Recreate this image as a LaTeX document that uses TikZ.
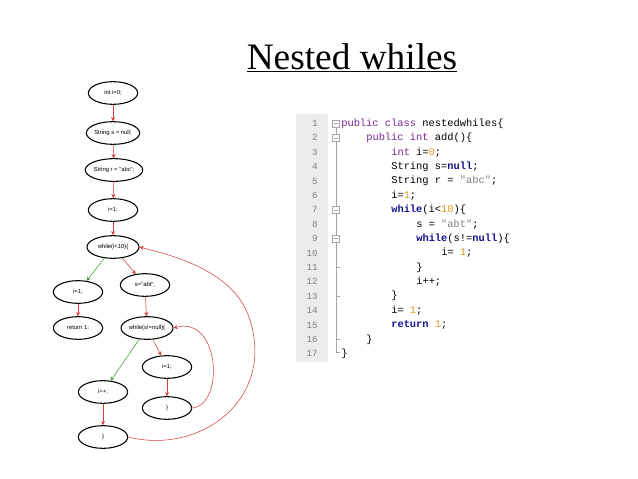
\documentclass[tikz,border=0pt]{standalone}
\usepackage{fontspec}
\setmainfont{Liberation Serif}
\setsansfont{Liberation Sans}
\setmonofont{Liberation Mono}
\usetikzlibrary{shapes.geometric,arrows.meta}
\definecolor{kw}{RGB}{120,40,150}
\definecolor{kb}{RGB}{20,20,140}
\definecolor{num}{RGB}{220,160,40}
\definecolor{str}{RGB}{130,130,130}
\definecolor{redline}{RGB}{215,60,60}
\definecolor{greenline}{RGB}{70,150,60}
\newcommand{\Kw}[1]{\textcolor{kw}{#1}}
\newcommand{\Bw}[1]{\textcolor{kb}{\bfseries #1}}
\newcommand{\Nm}[1]{\textcolor{num}{#1}}
\newcommand{\Sg}[1]{\textcolor{str}{#1}}
\tikzset{
  fnode/.style={ellipse,draw=black,thick,minimum width=37pt,minimum height=17pt,inner sep=0pt,font=\sffamily\fontsize{4.4}{5}\selectfont},
  redarr/.style={draw=redline,-{Stealth[length=3pt,width=3pt]}},
  greenarr/.style={draw=greenline,-{Stealth[length=3pt,width=3pt]}},
  code/.style={anchor=west,inner sep=0pt,font=\ttfamily\fontsize{7.8}{8}\selectfont},
  lnum/.style={anchor=east,inner sep=0pt,text=gray,font=\ttfamily\fontsize{7}{8}\selectfont}
}
\begin{document}
\begin{tikzpicture}[x=0.75pt,y=-0.75pt]
\useasboundingbox (0,0) rectangle (638,478);
\fill[white] (0,0) rectangle (638,478);
\node[inner sep=0pt,font=\fontsize{28}{30}\selectfont] (title) at (352,58) {\underline{Nested whiles}};
% flow graph
\node[fnode] (a) at (113,93) {int i=0;};
\node[fnode,minimum width=40pt] (b) at (113,133) {String s = null;};
\node[fnode,minimum width=40pt] (c) at (114,170) {String r = "abc";};
\node[fnode] (d) at (113,210) {i=1;};
\node[fnode,minimum width=39pt] (e) at (113,247) {while(i<10)\{};
\node[fnode] (f) at (78,292) {i=1;};
\node[fnode] (g) at (78,328) {return 1;};
\node[fnode] (h) at (145,285) {s="abt";};
\node[fnode,minimum width=39pt] (w) at (147,328) {while(s!=null)\{};
\node[fnode] (k) at (167,367) {i=1;};
\node[fnode] (l) at (167,408) {\}};
\node[fnode] (m) at (103,392) {i++;};
\node[fnode] (n) at (103,437) {\}};
\draw[redarr] (a) -- (b);
\draw[redarr] (b) -- (c);
\draw[redarr] (c) -- (d);
\draw[redarr] (d) -- (e);
\draw[greenarr] (e) -- (f);
\draw[redarr] (e) -- (h);
\draw[redarr] (f) -- (g);
\draw[redarr] (h) -- (w);
\draw[greenarr] (w) -- (m);
\draw[redarr] (w) -- (k);
\draw[redarr] (k) -- (l);
\draw[redarr] (m) -- (n);
\draw[redarr] (l.east) .. controls (225,405) and (220,315) .. (w.east);
\draw[redarr] (n.east) .. controls (200,455) and (275,400) .. (250,320) .. controls (235,270) and (170,255) .. (e.east);
% code
\fill[gray!15] (296,114) rectangle (328,362);
\foreach \i in {1,...,17} {
  \node[lnum] (ln\i) at (318,{109+14.4*\i}) {\i};
}
\draw[gray!70] (336,124) -- (336,352) -- (340,352);
\foreach \y in {123.4,137.8,209.8,238.6} {
  \draw[gray!70,fill=white] (332.5,\y-3.5) rectangle (339.5,\y+3.5);
  \draw[gray!70] (334,\y) -- (338,\y);
}
\foreach \y in {267.4,296.2,339.4} \draw[gray!70] (336,\y) -- (340,\y);
\node[code] (c1) at (341,123.4) {\Kw{public class} nestedwhiles\{};
\node[code] (c2) at (366,137.8) {\Kw{public int} add()\{};
\node[code] (c3) at (391,152.2) {\Kw{int} i=\Nm{0};};
\node[code] (c4) at (391,166.6) {String s=\Bw{null};};
\node[code] (c5) at (391,181.0) {String r = \Sg{"abc"};};
\node[code] (c6) at (391,195.4) {i=\Nm{1};};
\node[code] (c7) at (391,209.8) {\Bw{while}(i<\Nm{10})\{};
\node[code] (c8) at (416,224.2) {s = \Sg{"abt"};};
\node[code] (c9) at (416,238.6) {\Bw{while}(s!=\Bw{null})\{};
\node[code] (c10) at (441,253.0) {i= \Nm{1};};
\node[code] (c11) at (416,267.4) {\}};
\node[code] (c12) at (416,281.8) {i++;};
\node[code] (c13) at (391,296.2) {\}};
\node[code] (c14) at (391,310.6) {i= \Nm{1};};
\node[code] (c15) at (391,325.0) {\Bw{return} \Nm{1};};
\node[code] (c16) at (366,339.4) {\}};
\node[code] (c17) at (341,353.8) {\}};
\end{tikzpicture}
\end{document}
